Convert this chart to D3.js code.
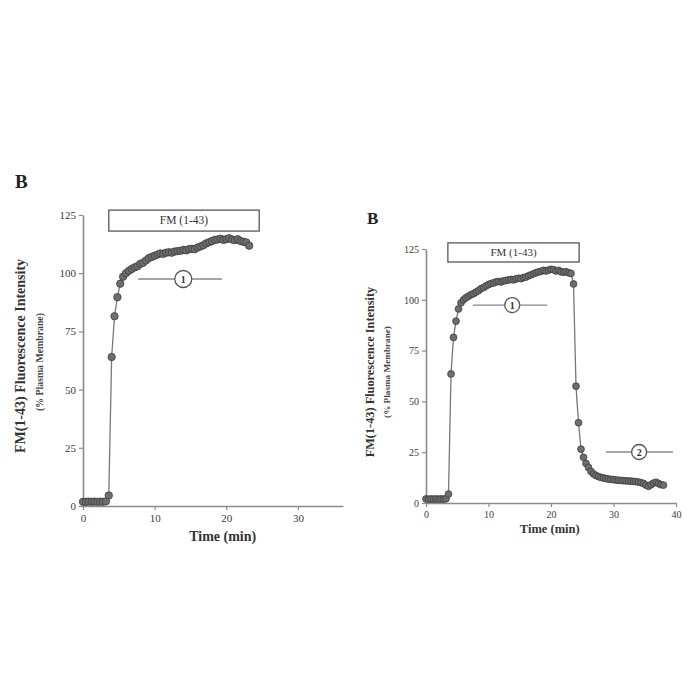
<!DOCTYPE html>
<html><head><meta charset="utf-8">
<script src="https://cdn.jsdelivr.net/npm/d3@7"></script>
<style>body{margin:0;background:#fff}svg{display:block}</style>
</head><body>
<svg id="c" width="700" height="700"></svg>
<script>
const leftTime = [0,0.4,0.8,1.2,1.6,2.0,2.4,2.8,3.2,3.6,4.0,4.4,4.8,5.2,5.6,6.0,6.4,6.8,7.2,7.6,8.0,8.4,8.8,9.2,9.6,10.0,10.4,10.8,11.2,11.6,12.0,12.4,12.8,13.2,13.6,14.0,14.4,14.8,15.2,15.6,16.0,16.4,16.8,17.2,17.6,18.0,18.4,18.8,19.2,19.6,20.0,20.4,20.8,21.2,21.6,22.0,22.4,22.8,23.2];
const leftValue = [1.8,1.8,1.9,1.8,1.9,1.8,1.9,1.8,2.0,4.5,64,81.5,89.7,95.5,98.5,100,101,101.8,102.5,103,104,104.5,105.5,106.5,107,107.5,108,108.5,108.3,108.8,109,108.8,109.3,109.5,109.6,110,109.8,110.3,110.5,110.3,111,111.5,112,112.8,113.3,113.8,114.3,114.5,114.8,114.3,114.6,115,114.5,114.2,114.6,113.8,113.5,113.2,111.8];

const rightTime = [0,0.4,0.8,1.2,1.6,2.0,2.4,2.8,3.2,3.6,4.0,4.4,4.8,5.2,5.6,6.0,6.4,6.8,7.2,7.6,8.0,8.4,8.8,9.2,9.6,10.0,10.4,10.8,11.2,11.6,12.0,12.4,12.8,13.2,13.6,14.0,14.4,14.8,15.2,15.6,16.0,16.4,16.8,17.2,17.6,18.0,18.4,18.8,19.2,19.6,20.0,20.4,20.8,21.2,21.6,22.0,22.4,22.8,23.2,23.6,24.0,24.4,24.8,25.2,25.6,26.0,26.4,26.8,27.2,27.6,28.0,28.4,28.8,29.2,29.6,30.0,30.4,30.8,31.2,31.6,32.0,32.4,32.8,33.2,33.6,34.0,34.4,34.8,35.2,35.6,36.0,36.4,36.8,37.2,37.6,38.0];
const rightValue = [2.0,1.9,2.0,1.9,2.0,1.9,2.0,1.9,2.1,4.4,63.5,81.5,89.5,95.5,98.5,100,101,101.8,102.5,103,103.8,104.5,105.5,106,106.8,107.5,108,108.3,108.8,109,108.8,109.3,109.5,109.8,110,109.8,110.3,110.6,110.4,111,111.2,111.8,112.3,112.8,113.3,113.7,114,114.5,114.2,114.6,115,114.8,114.2,114.5,113.8,113.6,113.8,113.3,113,107.8,57.5,39.5,26.5,22.5,19.5,17.5,15.5,14.3,13.5,13,12.6,12.3,12,11.8,11.6,11.5,11.3,11.2,11.1,11,10.9,10.8,10.8,10.6,10.5,10.3,10,9.6,8.8,8.2,9.0,9.8,10.2,9.6,9.0,8.8];

const yTicks = [0,25,50,75,100,125];
const leftXTicks = [0,10,20,30];
const rightXTicks = [0,10,20,30,40];

const panelLetter = "B";
const boxLabel = "FM (1-43)";
const xTitle = "Time (min)";
const yTitle = "FM(1-43) Fluorescence Intensity";
const ySubTitle = "(% Plasma Membrane)";

// annotations in data units
const leftBox = [3.6, 24.6, 118.1, 127.1];
const rightBox = [3.5, 24.5, 118.6, 128.0];
const leftMarks = [{label:"1", x0:7.7, x1:19.4, xc:14.0, y:97.5}];
const rightMarks = [{label:"1", x0:7.5, x1:19.4, xc:13.8, y:97.4},{label:"2", x0:28.8, x1:39.5, xc:34.1, y:25.1}];

const svg = d3.select("#c");
const serif = "'Liberation Serif','DejaVu Serif',serif";

function panel(cfg){
  const g = svg.append("g");
  const x = d3.scaleLinear().domain(cfg.xDomain).range(cfg.xRange);
  const y = d3.scaleLinear().domain([0,125]).range(cfg.yRange);

  const ax = g.append("g").attr("transform",`translate(0,${cfg.yRange[0]})`)
    .call(d3.axisBottom(x).tickValues(cfg.xTicks).tickSize(4).tickSizeOuter(0).tickPadding(4));
  const ay = g.append("g").attr("transform",`translate(${cfg.xRange[0]},0)`)
    .call(d3.axisLeft(y).tickValues(yTicks).tickSize(4).tickSizeOuter(0).tickPadding(3));
  [ax,ay].forEach(a=>{
    a.select(".domain").attr("stroke","#8a8a8a").attr("stroke-width",1.6);
    a.selectAll(".tick line").attr("stroke","#8a8a8a").attr("stroke-width",1.2);
    a.selectAll(".tick text").attr("fill","#3a3a3a").style("font-family",serif).style("font-size",cfg.tickFont+"px");
  });

  // x title
  g.append("text").attr("x",x(cfg.xTitleAt)).attr("y",cfg.xTitleY)
    .attr("text-anchor","middle").style("font-family",serif).style("font-weight","bold")
    .style("font-size",cfg.titleFont+"px").attr("fill","#333").text(xTitle);
  // y titles
  const ym = (cfg.yRange[0]+cfg.yRange[1])/2;
  g.append("text").attr("transform",`translate(${cfg.yTitleX},${ym+cfg.yTitleDy}) rotate(-90)`)
    .attr("text-anchor","middle").style("font-family",serif).style("font-weight","bold")
    .style("font-size",cfg.yTitleFont+"px").attr("fill","#333").text(yTitle);
  g.append("text").attr("transform",`translate(${cfg.ySubX},${ym+cfg.ySubDy}) rotate(-90)`)
    .attr("text-anchor","middle").style("font-family",serif).style("font-weight","bold")
    .style("font-size",cfg.ySubFont+"px").attr("fill","#444").text(ySubTitle);

  // panel letter
  g.append("text").attr("x",cfg.letterX).attr("y",cfg.letterY).style("font-family",serif)
    .style("font-weight","bold").style("font-size",cfg.letterFont+"px").attr("fill","#222").text(panelLetter);

  // FM box
  const b = cfg.box;
  g.append("rect").attr("x",x(b[0])).attr("y",y(b[3])).attr("width",x(b[1])-x(b[0])).attr("height",y(b[2])-y(b[3]))
    .attr("fill","#fff").attr("stroke","#555").attr("stroke-width",1.3);
  g.append("text").attr("x",(x(b[0])+x(b[1]))/2).attr("y",(y(b[2])+y(b[3]))/2+3.8)
    .attr("text-anchor","middle").style("font-family",serif).style("font-size",cfg.boxFont+"px").attr("fill","#333").text(boxLabel);

  // markers
  cfg.marks.forEach(m=>{
    g.append("line").attr("x1",x(m.x0)).attr("x2",x(m.x1)).attr("y1",y(m.y)).attr("y2",y(m.y))
      .attr("stroke","#888").attr("stroke-width",1.3);
    g.append("circle").attr("cx",x(m.xc)).attr("cy",y(m.y)).attr("r",cfg.markR)
      .attr("fill","#fff").attr("stroke","#555").attr("stroke-width",1.3);
    g.append("text").attr("x",x(m.xc)).attr("y",y(m.y)+3.6).attr("text-anchor","middle")
      .style("font-family",serif).style("font-weight","bold").style("font-size","10px").attr("fill","#333").text(m.label);
  });

  // data
  const pts = cfg.t.map((t,i)=>[t,cfg.v[i]]);
  g.append("path").datum(pts).attr("fill","none").attr("stroke","#777").attr("stroke-width",1.3)
    .attr("d",d3.line().x(d=>x(d[0])).y(d=>y(d[1])));
  g.selectAll("circle.pt").data(pts).enter().append("circle").attr("class","pt")
    .attr("cx",d=>x(d[0])).attr("cy",d=>y(d[1])).attr("r",cfg.ptR)
    .attr("fill","#6e6e6e").attr("stroke","#3c3c3c").attr("stroke-width",0.8);
}

panel({xDomain:[0,36.3], xRange:[83,343], yRange:[506,215], xTicks:leftXTicks,
  t:leftTime, v:leftValue, box:leftBox, marks:leftMarks, markR:8.5, ptR:3.7,
  tickFont:11, titleFont:14, xTitleAt:19.5, xTitleY:541, yTitleX:25, yTitleFont:14, yTitleDy:-4.5,
  ySubX:43, ySubFont:9.8, ySubDy:1.5,
  letterX:15, letterY:188, letterFont:19, boxFont:11.5});

panel({xDomain:[0,40], xRange:[426,676], yRange:[503,249], xTicks:rightXTicks,
  t:rightTime, v:rightValue, box:rightBox, marks:rightMarks, markR:7.5, ptR:3.4,
  tickFont:10, titleFont:12.5, xTitleAt:19.8, xTitleY:533, yTitleX:374, yTitleFont:12.3, yTitleDy:-4,
  ySubX:390, ySubFont:9.2, ySubDy:-4,
  letterX:367, letterY:224, letterFont:17, boxFont:11});
</script>
</body></html>
